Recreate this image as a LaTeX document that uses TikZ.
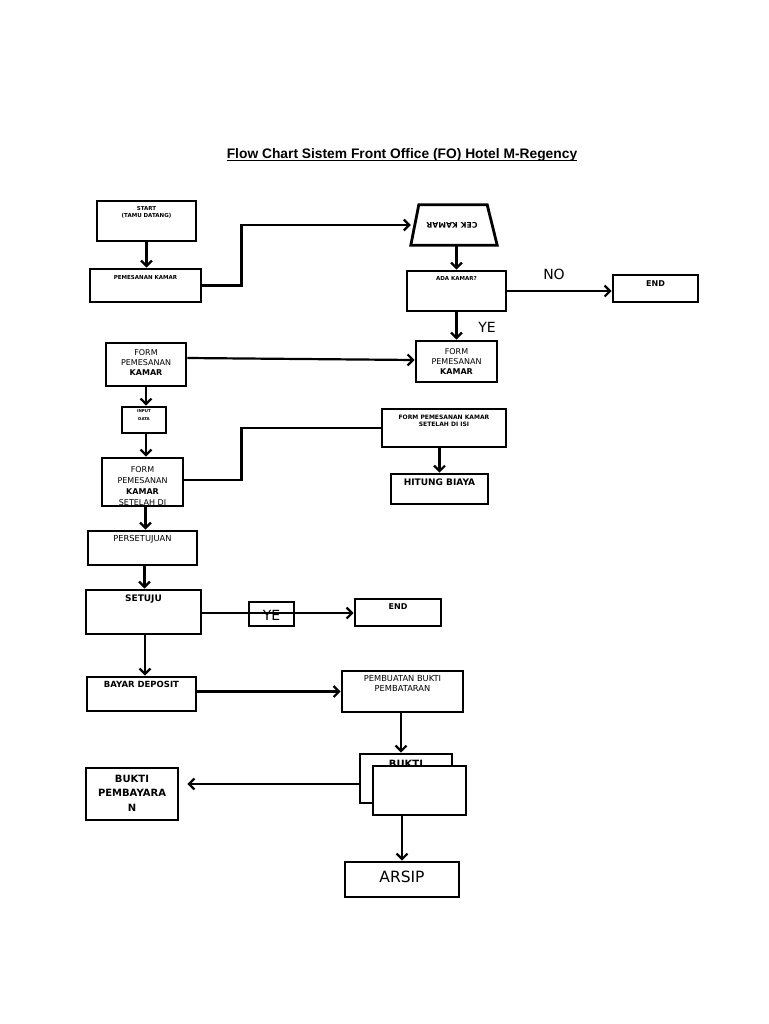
\documentclass[tikz,border=0pt]{standalone}
\usepackage{fontspec}
\setmainfont{DejaVu Sans}
\newfontfamily\titlefont{Liberation Sans}
\usetikzlibrary{arrows.meta}
\begin{document}
\begin{tikzpicture}[x=1pt,y=-1pt,
  box/.style={draw,line width=2.8pt,inner sep=0pt,fill=white},
  conn/.style={line width=2.2pt,-{Straight Barb[length=5.5pt,width=11pt,line width=2.2pt]}},
  plain/.style={line width=2.2pt},
  txt/.style={align=center,inner sep=0pt},
  tiny/.style={txt,font=\fontsize{5.5}{6.5}\selectfont\bfseries},
  small/.style={txt,font=\fontsize{8}{10}\selectfont},
  bold/.style={txt,font=\fontsize{8.5}{10}\selectfont\bfseries},
  big/.style={txt,font=\fontsize{14}{16}\selectfont}
]
\useasboundingbox[fill=white] (0,0) rectangle (768,1024);

\node[font=\titlefont\bfseries\fontsize{13.8}{16}\selectfont,inner sep=0pt] (title) at (402,155) {Flow Chart Sistem Front Office (FO) Hotel M-Regency};
\draw[line width=1.1pt] ([yshift=-2pt]title.base west) -- ([yshift=-2pt]title.base east);

% boxes
\node[box,minimum width=99pt,minimum height=40pt] (start) at (146.5,221) {};
\node[tiny,anchor=north] (startT) at ([yshift=-7pt]start.north) {START\\(TAMU DATANG)};

\node[box,minimum width=111pt,minimum height=33pt] (pemesanan) at (145.5,285.5) {};
\node[tiny,anchor=north] (pemesananT) at ([yshift=-8pt]pemesanan.north) {PEMESANAN KAMAR};

\node[minimum width=86pt,minimum height=40pt,inner sep=0pt] (cek) at (454,225) {};
\draw[line width=2.8pt,line join=miter] (cek.south west) -- ([xshift=8pt]cek.north west) -- ([xshift=-10pt]cek.north east) -- (cek.south east) -- cycle;
\node[txt,rotate=180,font=\fontsize{7.7}{8}\selectfont\bfseries] (cekT) at (452,225) {CEK KAMAR};

\node[box,minimum width=99pt,minimum height=40pt] (ada) at (456.5,291) {};
\node[tiny,anchor=north] (adaT) at ([yshift=-7pt]ada.north) {ADA KAMAR?};

\node[box,minimum width=85pt,minimum height=27pt] (end1) at (655.5,288.5) {};
\node[txt,anchor=north,font=\fontsize{8}{9}\selectfont\bfseries] (end1T) at ([yshift=-7pt]end1.north) {END};
\node[big] (no) at (554,274) {NO};

\node[box,minimum width=81pt,minimum height=41pt] (formR) at (456.5,361.5) {};
\node[small] (formRT) at ([yshift=-0.5pt]formR.center) {FORM\\PEMESANAN\\\textbf{KAMAR}};
\node[big] (ye1) at (487,327) {YE};

\node[box,minimum width=80pt,minimum height=43pt] (formL) at (146,364.5) {};
\node[small] (formLT) at ([yshift=1.5pt]formL.center) {FORM\\PEMESANAN\\\textbf{KAMAR}};

\node[box,minimum width=44pt,minimum height=26pt] (input) at (144,420) {};
\node[txt,anchor=north,font=\fontsize{4}{8}\selectfont\bfseries] (inputT) at ([yshift=-3.5pt]input.north) {INPUT\\DATA};

\node[box,minimum width=81pt,minimum height=48pt] (formS) at (142.5,482) {};
\begin{scope}
  \clip ([xshift=2.8pt,yshift=-2.8pt]formS.north west) rectangle ([xshift=-2.8pt,yshift=2.8pt]formS.south east);
  \node[txt,anchor=north,font=\fontsize{8}{11}\selectfont] (formST) at ([yshift=-9.5pt]formS.north) {FORM\\PEMESANAN\\\textbf{KAMAR}\\SETELAH DI};
\end{scope}

\node[box,minimum width=124pt,minimum height=38pt] (formSI) at (444,428) {};
\node[txt,anchor=north,font=\fontsize{6}{7.5}\selectfont\bfseries] (formSIT) at ([yshift=-7pt]formSI.north) {FORM PEMESANAN KAMAR\\SETELAH DI ISI};

\node[box,minimum width=97pt,minimum height=30pt] (hitung) at (439.5,489) {};
\node[txt,anchor=north,font=\fontsize{9}{10}\selectfont\bfseries] (hitungT) at ([yshift=-6pt]hitung.north) {HITUNG BIAYA};

\node[box,minimum width=109pt,minimum height=34pt] (persetujuan) at (142.5,548) {};
\node[txt,anchor=north,font=\fontsize{8.3}{9}\selectfont] (persetujuanT) at ([yshift=-6pt]persetujuan.north) {PERSETUJUAN};

\node[box,minimum width=115pt,minimum height=44pt] (setuju) at (143.5,612) {};
\node[txt,anchor=north,font=\fontsize{9}{10}\selectfont\bfseries] (setujuT) at ([yshift=-6pt]setuju.north) {SETUJU};

\node[draw,line width=2.2pt,fill=white,minimum width=45pt,minimum height=24pt,inner sep=0pt] (ye2) at (271.5,614) {};
\node[big] (ye2T) at (271.5,615) {YE};

\node[box,minimum width=86pt,minimum height=27pt] (end2) at (398,612.5) {};
\node[txt,anchor=north,font=\fontsize{8}{9}\selectfont\bfseries] (end2T) at ([yshift=-6pt]end2.north) {END};

\node[box,minimum width=109pt,minimum height=34pt] (bayar) at (141.5,694) {};
\node[bold,anchor=north] (bayarT) at ([yshift=-5pt]bayar.north) {BAYAR DEPOSIT};

\node[box,minimum width=121pt,minimum height=41pt] (pembuatan) at (402.5,691.5) {};
\node[txt,anchor=north,font=\fontsize{8.3}{10}\selectfont] (pembuatanT) at ([yshift=-6pt]pembuatan.north) {PEMBUATAN BUKTI\\PEMBATARAN};

\node[box,minimum width=92pt,minimum height=49pt] (buktiB) at (406,778.5) {};
\node[txt,anchor=north,font=\fontsize{10}{12}\selectfont\bfseries] (buktiBT) at ([yshift=-7.5pt]buktiB.north) {BUKTI};
\node[box,minimum width=93pt,minimum height=49pt] (buktiF) at (419.5,790.5) {};

\node[box,minimum width=92pt,minimum height=52pt] (buktiP) at (132,794) {};
\node[txt,font=\fontsize{10}{14.5}\selectfont\bfseries] (buktiPT) at ([yshift=1pt]buktiP.center) {BUKTI\\PEMBAYARA\\N};

\node[box,minimum width=114pt,minimum height=35pt] (arsip) at (402,879.5) {};
\node[txt,font=\fontsize{15.5}{17}\selectfont] (arsipT) at (402,877) {ARSIP};

% connectors
\draw[conn] (start.south) -- (start.south |- pemesanan.north);
\draw[conn] (pemesanan.east) -- ++(39,0) |- (cek.west);
\draw[conn] (ada.north |- cek.south) -- (ada.north);
\draw[conn] (ada.east) -- (ada.east -| end1.west);
\draw[conn] (ada.south) -- (formR.north);
\draw[conn] ([yshift=6.5pt]formL.east) -- ([yshift=1.5pt]formR.west);
\draw[conn] (formL.south) -- (formL.south |- input.north);
\draw[conn] ([xshift=2pt]input.south) -- ([xshift=2pt]input.south |- formS.north);
\draw[plain] ([yshift=2pt]formS.east) -- ++(57,0) |- (formSI.west);
\draw[conn] (hitung.north |- formSI.south) -- (hitung.north);
\draw[conn] ([xshift=3pt]formS.south) -- ([xshift=3pt]formS.south |- persetujuan.north);
\draw[conn] ([xshift=2pt]persetujuan.south) -- ([xshift=2pt]persetujuan.south |- setuju.north);
\draw[conn] ([yshift=-1pt]setuju.east) -- ([yshift=-1pt]setuju.east -| end2.west);
\draw[conn] ([xshift=1.5pt]setuju.south) -- ([xshift=1.5pt]setuju.south |- bayar.north);
\draw[conn] (pembuatan.west -| bayar.east) -- (pembuatan.west);
\draw[conn] ([xshift=-1.5pt]pembuatan.south) -- ([xshift=-1.5pt]pembuatan.south |- buktiB.north);
\draw[conn,shorten >=8pt] ([yshift=-5.5pt]buktiB.west) -- ([yshift=-5.5pt]buktiB.west -| buktiP.east);
\draw[conn] (arsip.north |- buktiF.south) -- (arsip.north);
\end{tikzpicture}
\end{document}
